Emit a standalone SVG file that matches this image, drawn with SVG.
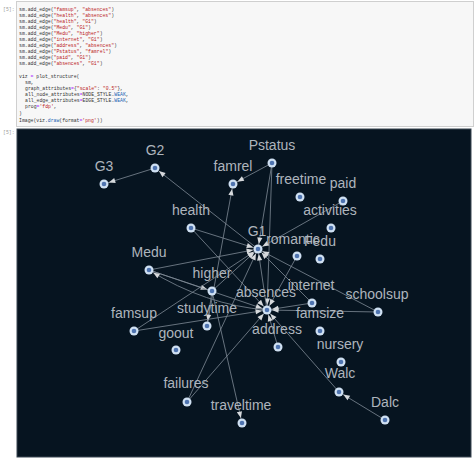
<svg xmlns="http://www.w3.org/2000/svg" width="474" height="468" viewBox="0 0 474 468">
<style>
.code{font-family:"Liberation Mono","DejaVu Sans Mono",monospace;font-size:4.8px;fill:#333}
.s{fill:#ba2121}
.o{fill:#aa22ff}
.k{fill:#1a5fb4}
.prompt{font-family:"Liberation Mono",monospace;font-size:4.8px;fill:#9a9a9a}
.e{fill:none;stroke:#7f8a95;stroke-width:0.8;marker-end:url(#ah)}
.n{fill:#cfe0f2}
.c{fill:#4f74b0}
.lbl{font-family:"Liberation Sans",Arial,sans-serif;font-size:14px;fill:#aeb5bd;text-anchor:middle}
</style>
<defs>
<marker id="ah" markerUnits="userSpaceOnUse" viewBox="-12 -3 12 6" markerWidth="12" markerHeight="6" refX="0" refY="0" orient="auto">
<path d="M-11.5,-2.6 L-5,0 L-11.5,2.6 z" fill="#d6d9dc"/>
</marker>
</defs>
<rect x="0" y="0" width="474" height="468" fill="#ffffff"/>
<rect x="16.5" y="1.5" width="457" height="125" fill="#f7f7f7" stroke="#cfcfcf" stroke-width="1"/>
<text class="prompt" x="3" y="11">[5]:</text>
<g class="code">
<text x="19" y="11">sm.add_edge(<tspan class="s">"famsup"</tspan>, <tspan class="s">"absences"</tspan>)</text>
<text x="19" y="17">sm.add_edge(<tspan class="s">"health"</tspan>, <tspan class="s">"absences"</tspan>)</text>
<text x="19" y="23">sm.add_edge(<tspan class="s">"health"</tspan>, <tspan class="s">"G1"</tspan>)</text>
<text x="19" y="29">sm.add_edge(<tspan class="s">"Medu"</tspan>, <tspan class="s">"G1"</tspan>)</text>
<text x="19" y="35">sm.add_edge(<tspan class="s">"Medu"</tspan>, <tspan class="s">"higher"</tspan>)</text>
<text x="19" y="41">sm.add_edge(<tspan class="s">"internet"</tspan>, <tspan class="s">"G1"</tspan>)</text>
<text x="19" y="47">sm.add_edge(<tspan class="s">"address"</tspan>, <tspan class="s">"absences"</tspan>)</text>
<text x="19" y="53">sm.add_edge(<tspan class="s">"Pstatus"</tspan>, <tspan class="s">"famrel"</tspan>)</text>
<text x="19" y="59">sm.add_edge(<tspan class="s">"paid"</tspan>, <tspan class="s">"G1"</tspan>)</text>
<text x="19" y="65">sm.add_edge(<tspan class="s">"absences"</tspan>, <tspan class="s">"G1"</tspan>)</text>
<text x="19" y="78">viz <tspan class="o">=</tspan> plot_structure(</text>
<text x="25" y="84">sm,</text>
<text x="25" y="90">graph_attributes<tspan class="o">=</tspan>{<tspan class="s">"scale"</tspan>: <tspan class="s">"0.5"</tspan>},</text>
<text x="25" y="96">all_node_attributes<tspan class="o">=</tspan>NODE_STYLE.<tspan class="k">WEAK</tspan>,</text>
<text x="25" y="102">all_edge_attributes<tspan class="o">=</tspan>EDGE_STYLE.<tspan class="k">WEAK</tspan>,</text>
<text x="25" y="108">prog<tspan class="o">=</tspan><tspan class="s">'fdp'</tspan>,</text>
<text x="19" y="115">)</text>
<text x="19" y="122">Image(viz.<tspan class="k">draw</tspan>(format<tspan class="o">=</tspan><tspan class="s">'png'</tspan>))</text>
</g>
<text class="prompt" x="3" y="134">[5]:</text>
<rect x="17" y="129" width="454" height="328" fill="#061420" stroke="#3a4652" stroke-width="1"/>
<g id="edges">
<path class="e" d="M155,168 L104,184"/>
<path class="e" d="M258,249 L155,168"/>
<path class="e" d="M272,163 L233,184"/>
<path class="e" d="M207,326 L233,184"/>
<path class="e" d="M272,163 L258,249"/>
<path class="e" d="M272,163 L267,310"/>
<path class="e" d="M191,228 L258,249"/>
<path class="e" d="M191,228 L267,310"/>
<path class="e" d="M149,270 L258,249"/>
<path class="e" d="M149,270 L212,291"/>
<path class="e" d="M149,270 L267,310"/>
<path class="e" d="M267,310 Q205,305 149,270"/>
<path class="e" d="M212,291 L207,326"/>
<path class="e" d="M212,291 L242,423"/>
<path class="e" d="M212,291 L258,249"/>
<path class="e" d="M134,331 L267,310"/>
<path class="e" d="M134,331 L258,249"/>
<path class="e" d="M312,303 L258,249"/>
<path class="e" d="M312,303 L267,310"/>
<path class="e" d="M343,201 L258,249"/>
<path class="e" d="M267,310 L258,249"/>
<path class="e" d="M378,312 L258,249"/>
<path class="e" d="M378,312 L267,310"/>
<path class="e" d="M297,256 L267,310"/>
<path class="e" d="M278,347 L267,310"/>
<path class="e" d="M187,402 L258,249"/>
<path class="e" d="M187,402 L267,310"/>
<path class="e" d="M385,420 L339,392"/>
<path class="e" d="M339,392 L267,310"/>
</g>
<g id="node-G3"><circle class="n" cx="104" cy="184" r="4.5"/><circle class="c" cx="104" cy="184" r="2.3"/><text class="lbl" x="104" y="171">G3</text></g>
<g id="node-G2"><circle class="n" cx="155" cy="168" r="4.5"/><circle class="c" cx="155" cy="168" r="2.3"/><text class="lbl" x="155" y="155">G2</text></g>
<g id="node-famrel"><circle class="n" cx="233" cy="184" r="4.5"/><circle class="c" cx="233" cy="184" r="2.3"/><text class="lbl" x="233" y="171">famrel</text></g>
<g id="node-Pstatus"><circle class="n" cx="272" cy="163" r="4.5"/><circle class="c" cx="272" cy="163" r="2.3"/><text class="lbl" x="272" y="150">Pstatus</text></g>
<g id="node-freetime"><circle class="n" cx="300" cy="197" r="4.5"/><circle class="c" cx="300" cy="197" r="2.3"/><text class="lbl" x="301" y="184">freetime</text></g>
<g id="node-paid"><circle class="n" cx="343" cy="201" r="4.5"/><circle class="c" cx="343" cy="201" r="2.3"/><text class="lbl" x="343" y="188">paid</text></g>
<g id="node-activities"><circle class="n" cx="331" cy="228" r="4.5"/><circle class="c" cx="331" cy="228" r="2.3"/><text class="lbl" x="330" y="215">activities</text></g>
<g id="node-health"><circle class="n" cx="191" cy="228" r="4.5"/><circle class="c" cx="191" cy="228" r="2.3"/><text class="lbl" x="191" y="215">health</text></g>
<g id="node-G1"><circle class="n" cx="258" cy="249" r="4.5"/><circle class="c" cx="258" cy="249" r="2.3"/><text class="lbl" x="257" y="236">G1</text></g>
<g id="node-romantic"><circle class="n" cx="297" cy="256" r="4.5"/><circle class="c" cx="297" cy="256" r="2.3"/><text class="lbl" x="293" y="244">romantic</text></g>
<g id="node-Fedu"><circle class="n" cx="320" cy="259" r="4.5"/><circle class="c" cx="320" cy="259" r="2.3"/><text class="lbl" x="320" y="246">Fedu</text></g>
<g id="node-Medu"><circle class="n" cx="149" cy="270" r="4.5"/><circle class="c" cx="149" cy="270" r="2.3"/><text class="lbl" x="149" y="257">Medu</text></g>
<g id="node-higher"><circle class="n" cx="212" cy="291" r="4.5"/><circle class="c" cx="212" cy="291" r="2.3"/><text class="lbl" x="212" y="278">higher</text></g>
<g id="node-internet"><circle class="n" cx="312" cy="303" r="4.5"/><circle class="c" cx="312" cy="303" r="2.3"/><text class="lbl" x="311" y="290">internet</text></g>
<g id="node-absences"><circle class="n" cx="267" cy="310" r="4.5"/><circle class="c" cx="267" cy="310" r="2.3"/><text class="lbl" x="266" y="297">absences</text></g>
<g id="node-schoolsup"><circle class="n" cx="378" cy="312" r="4.5"/><circle class="c" cx="378" cy="312" r="2.3"/><text class="lbl" x="377" y="299">schoolsup</text></g>
<g id="node-studytime"><circle class="n" cx="207" cy="326" r="4.5"/><circle class="c" cx="207" cy="326" r="2.3"/><text class="lbl" x="207" y="313">studytime</text></g>
<g id="node-famsup"><circle class="n" cx="134" cy="331" r="4.5"/><circle class="c" cx="134" cy="331" r="2.3"/><text class="lbl" x="134" y="318">famsup</text></g>
<g id="node-famsize"><circle class="n" cx="320" cy="331" r="4.5"/><circle class="c" cx="320" cy="331" r="2.3"/><text class="lbl" x="320" y="318">famsize</text></g>
<g id="node-address"><circle class="n" cx="278" cy="347" r="4.5"/><circle class="c" cx="278" cy="347" r="2.3"/><text class="lbl" x="277" y="334">address</text></g>
<g id="node-goout"><circle class="n" cx="176" cy="350" r="4.5"/><circle class="c" cx="176" cy="350" r="2.3"/><text class="lbl" x="176" y="338">goout</text></g>
<g id="node-nursery"><circle class="n" cx="341" cy="362" r="4.5"/><circle class="c" cx="341" cy="362" r="2.3"/><text class="lbl" x="340" y="349">nursery</text></g>
<g id="node-Walc"><circle class="n" cx="339" cy="392" r="4.5"/><circle class="c" cx="339" cy="392" r="2.3"/><text class="lbl" x="340" y="378">Walc</text></g>
<g id="node-failures"><circle class="n" cx="187" cy="402" r="4.5"/><circle class="c" cx="187" cy="402" r="2.3"/><text class="lbl" x="186" y="388">failures</text></g>
<g id="node-Dalc"><circle class="n" cx="385" cy="420" r="4.5"/><circle class="c" cx="385" cy="420" r="2.3"/><text class="lbl" x="385" y="407">Dalc</text></g>
<g id="node-traveltime"><circle class="n" cx="242" cy="423" r="4.5"/><circle class="c" cx="242" cy="423" r="2.3"/><text class="lbl" x="241" y="410">traveltime</text></g>
</svg>
